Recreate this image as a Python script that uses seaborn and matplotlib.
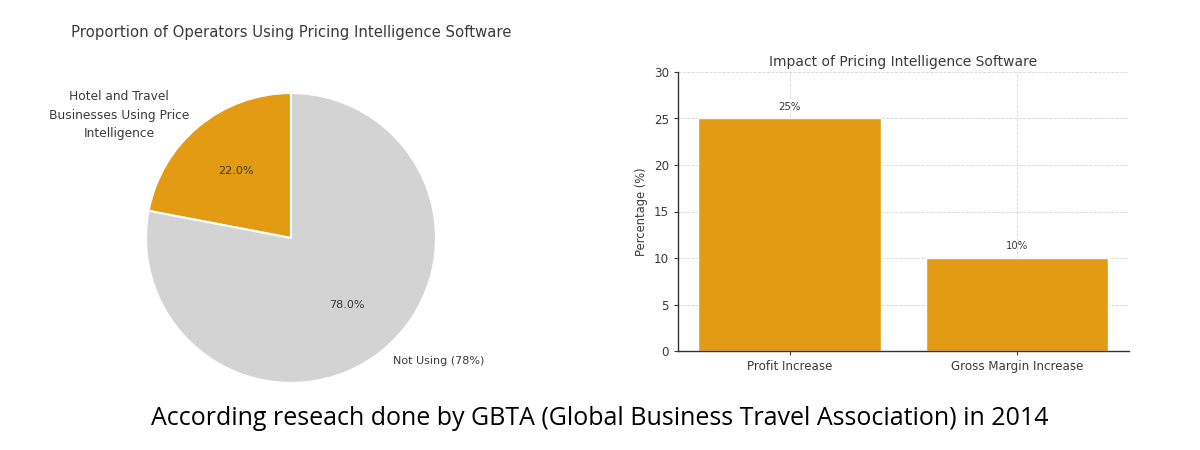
import matplotlib.pyplot as plt
import pandas as pd
import seaborn as sns

# pie data
pie_labels = ["Hotel and Travel\nBusinesses Using Price\nIntelligence", "Not Using (78%)"]
pie_values = [22, 78]
pie_colors = ["#e39b14", "#d3d3d3"]

# bar data
bar_categories = ["Profit Increase", "Gross Margin Increase"]
bar_values = [25, 10]

caption = "According reseach done by GBTA (Global Business Travel Association) in 2014"

sns.set_theme(style="white")
plt.rcParams["font.family"] = ["DejaVu Sans"]
text_col = "#3a3a3a"

fig = plt.figure(figsize=(12, 4.5), dpi=100)

# Pie chart
ax1 = fig.add_axes([0.0915, 0.0683, 0.302, 0.8056])
wedges, texts, autotexts = ax1.pie(
    pie_values, labels=pie_labels, colors=pie_colors, autopct="%1.1f%%",
    startangle=90, wedgeprops=dict(edgecolor="white", linewidth=1.5),
    textprops=dict(color=text_col, fontsize=8))
texts[0].set_multialignment("center")
texts[0].set_fontsize(8.8)
texts[0].set_linespacing(1.55)
ax1.set_title("Proportion of Operators Using Pricing Intelligence Software",
              fontsize=10.7, color=text_col, pad=14)
ax1.set_aspect("equal")

# Bar chart
ax2 = fig.add_axes([0.565, 0.22, 0.3758, 0.62])
df = pd.DataFrame({"category": bar_categories, "value": bar_values})
sns.barplot(data=df, x="category", y="value", color="#e39b14", saturation=1,
            width=0.8, ax=ax2)
ax2.set_xlim(-0.49, 1.49)
ax2.set_ylim(0, 30)
ax2.set_yticks(range(0, 31, 5))
ax2.set_xlabel("")
ax2.set_ylabel("Percentage (%)", fontsize=8.3, color=text_col)
ax2.set_title("Impact of Pricing Intelligence Software", fontsize=10, color=text_col, pad=4)
ax2.grid(True, linestyle="--", color="#cccccc", linewidth=0.6, alpha=0.8)
ax2.set_axisbelow(True)
sns.despine(ax=ax2)
for side in ["left", "bottom"]:
    ax2.spines[side].set_color("#333333")
    ax2.spines[side].set_linewidth(1.0)
ax2.tick_params(axis="both", labelsize=8.6, colors=text_col, length=3, width=0.8,
                left=True, bottom=True, direction="out")
for i, v in enumerate(bar_values):
    ax2.text(i, v + 0.7, f"{v}%", ha="center", va="bottom", fontsize=7.3, color=text_col)

fig.text(0.5, 0.07, caption, ha="center", va="center", fontsize=18,
         family=["Open Sans", "DejaVu Sans"], color="black")

fig.savefig("out.png", dpi=100)
